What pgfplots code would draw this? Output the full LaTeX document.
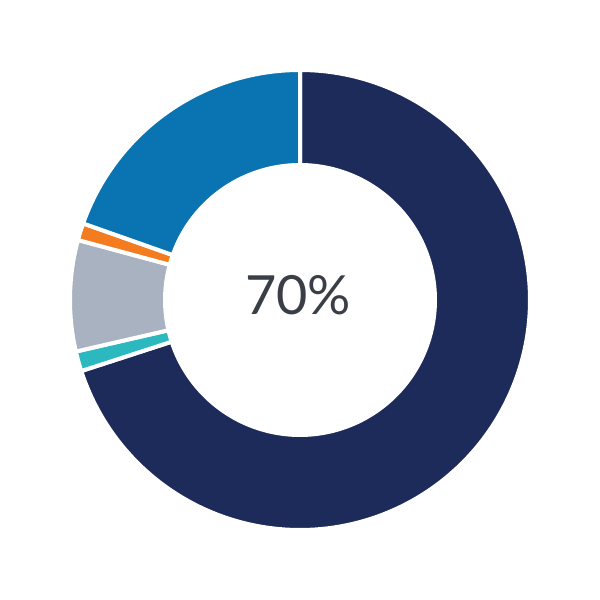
\documentclass[border=0pt]{standalone}
\usepackage{pgfplots}
\pgfplotsset{compat=1.18}
\usepackage{fontspec}
\setmainfont{Lato}
\definecolor{cnavy}{HTML}{1C2B5A}
\definecolor{cteal}{HTML}{2BB8BF}
\definecolor{cgray}{HTML}{A9B2C1}
\definecolor{corange}{HTML}{F47C20}
\definecolor{cblue}{HTML}{0A74B3}
\definecolor{ctext}{HTML}{3A3F47}
% slice values (percent), clockwise from 12 o'clock
\def\vA{70}
\def\vB{1.4}
\def\vC{7.8}
\def\vD{1.2}
\def\vE{19.6}
\pgfmathsetmacro\aO{90}
\pgfmathsetmacro\aA{90-3.6*\vA}
\pgfmathsetmacro\aB{\aA-3.6*\vB}
\pgfmathsetmacro\aC{\aB-3.6*\vC}
\pgfmathsetmacro\aD{\aC-3.6*\vD}
\pgfmathsetmacro\aE{\aD-3.6*\vE}
\begin{document}
\begin{tikzpicture}
\begin{axis}[scale only axis, width=300pt, height=300pt,
  xmin=-300, xmax=300, ymin=-300, ymax=300, hide axis, clip=false]
\draw[draw=none] (rel axis cs:0,0) rectangle (rel axis cs:1,1);
\addplot[fill=cnavy, draw=white, line width=2pt, line join=round, domain=\aA:\aO, samples=220] ({230*cos(x)},{230*sin(x)}) -- (axis cs:0,0) -- cycle;
\addplot[fill=cteal, draw=white, line width=2pt, line join=round, domain=\aB:\aA, samples=20] ({230*cos(x)},{230*sin(x)}) -- (axis cs:0,0) -- cycle;
\addplot[fill=cgray, draw=white, line width=2pt, line join=round, domain=\aC:\aB, samples=40] ({230*cos(x)},{230*sin(x)}) -- (axis cs:0,0) -- cycle;
\addplot[fill=corange, draw=white, line width=2pt, line join=round, domain=\aD:\aC, samples=20] ({230*cos(x)},{230*sin(x)}) -- (axis cs:0,0) -- cycle;
\addplot[fill=cblue, draw=white, line width=2pt, line join=round, domain=\aE:\aD, samples=80] ({230*cos(x)},{230*sin(x)}) -- (axis cs:0,0) -- cycle;
\addplot[fill=white, draw=none, domain=0:360, samples=240] ({137*cos(x)},{137*sin(x)}) -- cycle;
\node[anchor=base, text=ctext, font=\fontsize{27}{32}\selectfont, inner sep=0pt] at (axis cs:-2,-15) {70\%};
\end{axis}
\end{tikzpicture}
\end{document}
